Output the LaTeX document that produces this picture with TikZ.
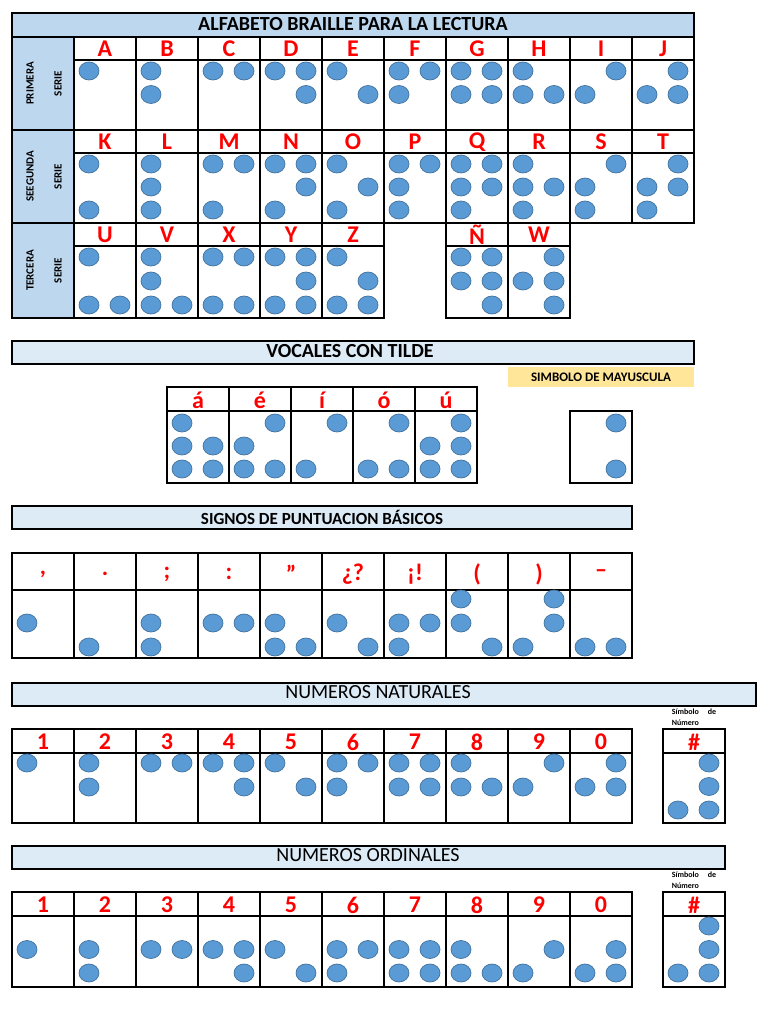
\documentclass[tikz,border=0pt]{standalone}
\usepackage{fontspec}
\setmainfont{Carlito}
\usetikzlibrary{positioning,calc}
\definecolor{dotblue}{HTML}{5B9BD5}
\definecolor{dotedge}{HTML}{41719C}
\definecolor{titleblue}{HTML}{BDD7EE}
\definecolor{barblue}{HTML}{DDEBF7}
\definecolor{mayus}{HTML}{FFE699}
\tikzset{
  punto/.style={fill=dotblue,draw=dotedge,line width=0.7pt},
  letra/.style={text=red,font=\fontsize{24}{24}\bfseries\selectfont,inner sep=0pt},
  celda/.style={draw=black,line width=1.6pt},
  barra/.style={draw=black,line width=2pt,fill=barblue},
  serie/.style={font=\fontsize{11}{11}\bfseries\selectfont,rotate=90,inner sep=0pt},
  titulo/.style={font=\fontsize{20}{20}\bfseries\selectfont,inner sep=0pt}
}
% x0, y of first dot row, row step, dots as a digit string
\newcommand{\braille}[4]{\def\bx{#1}\def\by{#2}\def\bs{#3}%
  \edef\lista{#4}\expandafter\brlchars\lista\relax}
\def\brlchars#1{\ifx#1\relax\else\brldot{#1}\expandafter\brlchars\fi}
\newcommand{\brldot}[1]{%
  \pgfmathsetmacro{\cx}{\bx+(#1>3 ? 46 : 15)}%
  \pgfmathsetmacro{\cy}{\by+mod(#1-1,3)*\bs}%
  \draw[punto] (\cx,\cy) ellipse (10pt and 9pt);}
\newcommand{\signo}[1]{\ifcase#1 ,\or .\or ;\or :\or "\or ¿?\or ¡!\or (\or )\or –\fi}
\begin{document}
\begin{tikzpicture}[x=1pt,y=-1pt]
\useasboundingbox (0,0) rectangle (768,1024);

% alfabeto
\draw[celda,fill=titleblue] (12,13) rectangle (694,37);
\node[titulo] (talfa) at (353,24) {ALFABETO BRAILLE PARA LA LECTURA};
\foreach \yl/\yb/\n/\a in {37/130/pri/PRIMERA,130/223/seg/SEEGUNDA,223/318/ter/TERCERA}{
  \draw[celda,fill=titleblue] (12,\yl) rectangle (74,\yb);
  \node[serie] (\n a) at (30,{(\yl+\yb)/2}) {\a};
  \node[serie] (\n b) at (58,{(\yl+\yb)/2}) {SERIE};
}
\foreach \L/\p [count=\i from 0] in {A/1,B/12,C/14,D/145,E/15,F/124,G/1245,H/125,I/24,J/245}{
  \draw[celda] (74+62*\i,37) rectangle ++(62,23);
  \draw[celda] (74+62*\i,60) rectangle ++(62,70);
  \node[letra] (la\i) at (105+62*\i,49) {\L};
  \braille{74+62*\i}{71}{23.5}{\p}
}
\foreach \L/\p [count=\i from 0] in {K/13,L/123,M/134,N/1345,O/135,P/1234,Q/12345,R/1235,S/234,T/2345}{
  \draw[celda] (74+62*\i,130) rectangle ++(62,23);
  \draw[celda] (74+62*\i,153) rectangle ++(62,70);
  \node[letra] (lb\i) at (105+62*\i,142) {\L};
  \braille{74+62*\i}{164}{23}{\p}
}
\foreach \i/\L/\p in {0/U/136,1/V/1236,2/X/1346,3/Y/13456,4/Z/1356,6/Ñ/12456,7/W/2456}{
  \draw[celda] (74+62*\i,223) rectangle ++(62,23);
  \draw[celda] (74+62*\i,246) rectangle ++(62,72);
  \node[letra] (lc\i) at (105+62*\i,235) {\L};
  \braille{74+62*\i}{257}{24}{\p}
}

% vocales
\draw[barra] (12,341) rectangle (694,364);
\node[titulo] (tvoc) at (350,351) {VOCALES CON TILDE};
\fill[mayus] (508,367) rectangle (694,387);
\node[font=\fontsize{13}{13}\bfseries\selectfont] (tmay) at (601,377) {SIMBOLO DE MAYUSCULA};
\foreach \L/\p [count=\i from 0] in {á/12356,é/2346,í/34,ó/346,ú/23456}{
  \draw[celda] (167+62*\i,387) rectangle ++(62,24);
  \draw[celda] (167+62*\i,411) rectangle ++(62,72);
  \node[letra] (lv\i) at (198+62*\i,400) {\L};
  \braille{167+62*\i}{423}{23}{\p}
}
\draw[celda] (570,411) rectangle (632,483);
\braille{570}{423}{23}{46}

% puntuacion
\draw[barra] (12,506) rectangle (632,529);
\node[font=\fontsize{17}{17}\bfseries\selectfont] (tpun) at (322,517) {SIGNOS DE PUNTUACION BÁSICOS};
\foreach \p [count=\i from 0] in {2,3,23,25,236,26,235,126,453,36}{
  \draw[celda] (12+62*\i,553) rectangle ++(62,37);
  \draw[celda] (12+62*\i,590) rectangle ++(62,68);
  \node[letra] (lp\i) at (43+62*\i,574) {\signo{\i}};
  \braille{12+62*\i}{599}{24}{\p}
}

% numeros naturales
\draw[barra] (12,683) rectangle (756,706);
\node[font=\fontsize{20}{20}\selectfont] (tnat) at (378,692) {NUMEROS NATURALES};
\foreach \L/\p [count=\i from 0] in {1/1,2/12,3/14,4/145,5/15,6/124,7/1245,8/125,9/24,0/245}{
  \draw[celda] (12+62*\i,729) rectangle ++(62,24);
  \draw[celda] (12+62*\i,753) rectangle ++(62,70);
  \node[letra] (ln\i) at (43+62*\i,742) {\L};
  \braille{12+62*\i}{763}{24}{\p}
}
\node[font=\fontsize{8}{8}\bfseries\selectfont,align=left,inner sep=0pt] (snat) at (694,717) {Símbolo\hspace{9pt}de\\[3pt]Número};
\draw[celda] (663,729) rectangle ++(62,24);
\draw[celda] (663,753) rectangle ++(62,70);
\node[letra] (lnh) at (694,742) {\#};
\braille{663}{763}{23.5}{4563}

% numeros ordinales
\draw[barra] (12,846) rectangle (725,869);
\node[font=\fontsize{20}{20}\selectfont] (tord) at (368,855) {NUMEROS ORDINALES};
\foreach \L/\p [count=\i from 0] in {1/2,2/23,3/25,4/256,5/26,6/235,7/2356,8/236,9/35,0/356}{
  \draw[celda] (12+62*\i,892) rectangle ++(62,24);
  \draw[celda] (12+62*\i,916) rectangle ++(62,71);
  \node[letra] (lo\i) at (43+62*\i,905) {\L};
  \braille{12+62*\i}{926}{23.5}{\p}
}
\node[font=\fontsize{8}{8}\bfseries\selectfont,align=left,inner sep=0pt] (sord) at (694,880) {Símbolo\hspace{9pt}de\\[3pt]Número};
\draw[celda] (663,892) rectangle ++(62,24);
\draw[celda] (663,916) rectangle ++(62,71);
\node[letra] (loh) at (694,905) {\#};
\braille{663}{926}{23.5}{4563}
\end{tikzpicture}
\end{document}
